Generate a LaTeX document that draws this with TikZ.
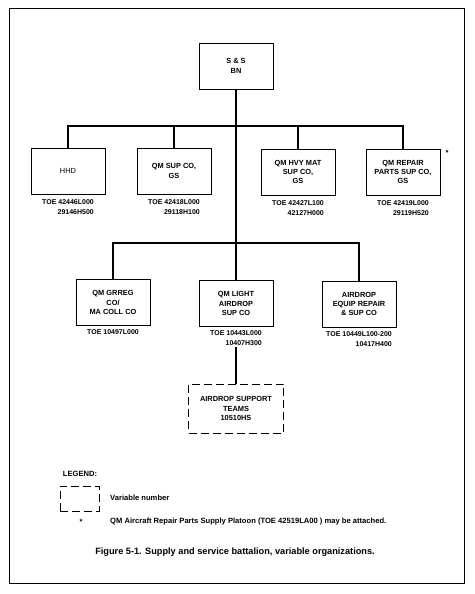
\documentclass[tikz,border=0pt]{standalone}
\usepackage{fontspec}
\setmainfont{Liberation Sans}
\usetikzlibrary{positioning}

\begin{document}
\begin{tikzpicture}[x=1pt,y=-1pt]
 \tikzset{unit/.style={draw,line width=0.7pt,minimum width=74pt,minimum height=46pt,align=center,inner sep=1pt,font=\fontsize{7.4}{9.2}\selectfont\bfseries},
  varunit/.style={unit,dash pattern=on 8pt off 4pt,minimum width=95pt,minimum height=49pt},
  toe/.style={align=right,inner sep=1pt,font=\fontsize{7}{10}\selectfont\bfseries},
  note/.style={inner sep=1pt,font=\fontsize{7.6}{9}\selectfont\bfseries},
  link/.style={line width=1.4pt}}
 \useasboundingbox (0,0) rectangle (474,594);
 \draw[line width=0.6pt] (9,8) rectangle (464,583);

 % battalion and first row
 \node[unit] (bn) at (236,66) {S \& S\\BN};
 \node[unit,font=\fontsize{7.4}{9.2}\selectfont] (hhd) at (68,171) {HHD};
 \node[unit] (supco) at (174,171) {QM SUP CO,\\GS};
 \node[unit] (hvymat) at (298,172) {QM HVY MAT\\SUP CO,\\GS};
 \node[unit] (repair) at (403,172) {QM REPAIR\\PARTS SUP CO,\\GS};
 \node[note] (star) at (447,153) {*};

 \node[toe,below=4pt of hhd] (hhdtoe) {TOE 42446L000\\29146H500};
 \node[toe,below=4pt of supco] (supcotoe) {TOE 42418L000\\29118H100};
 \node[toe,below=4pt of hvymat] (hvymattoe) {TOE 42427L100\\42127H000};
 \node[toe,below=4pt of repair] (repairtoe) {TOE 42419L000\\29119H520};

 % second row
 \node[unit] (grreg) at (113,302.5) {QM GRREG\\CO/\\MA COLL CO};
 \node[unit] (light) at (236,303.5) {QM LIGHT\\AIRDROP\\SUP CO};
 \node[unit] (equip) at (359,304) {AIRDROP\\EQUIP REPAIR\\\& SUP CO};

 \node[toe,below=3pt of grreg] (grregtoe) {TOE 10497L000};
 \node[toe,below=3pt of light] (lighttoe) {TOE 10443L000\\10407H300};
 \node[toe,below=3pt of equip] (equiptoe) {TOE 10449L100-200\\10417H400};

 \node[varunit] (teams) at (236,408.5) {AIRDROP SUPPORT\\TEAMS\\10510HS};

 % connectors
 \coordinate (bus1) at (236,126);
 \coordinate (bus2) at (236,243);
 \draw[link] (bn) -- (light);
 \draw[link] (hhd.north) |- (bus1) -| (repair.north);
 \draw[link] (supco.north) -- (supco.north |- bus1);
 \draw[link] (hvymat.north) -- (hvymat.north |- bus1);
 \draw[link] (grreg.north) |- (bus2) -| (equip.north);
 \draw[link] (lighttoe.south -| teams.north) -- (teams);

 % legend
 \node[note] (legend) at (80,474) {LEGEND:};
 \node[draw,line width=0.7pt,dash pattern=on 8pt off 4pt,minimum width=39pt,minimum height=25pt] (legbox) at (79.5,498.5) {};
 \node[note,anchor=west] (legtext) at (109,498) {Variable number};
 \node[note] (legstar) at (81,522) {*};
 \node[note,anchor=west] (startext) at (109,522) {QM Aircraft Repair Parts Supply Platoon (TOE 42519LA00 ) may be attached.};

 \node[font=\fontsize{9.2}{11}\selectfont\bfseries] (caption) at (235,552) {Figure 5-1. Supply and service battalion, variable organizations.};
\end{tikzpicture}
\end{document}
